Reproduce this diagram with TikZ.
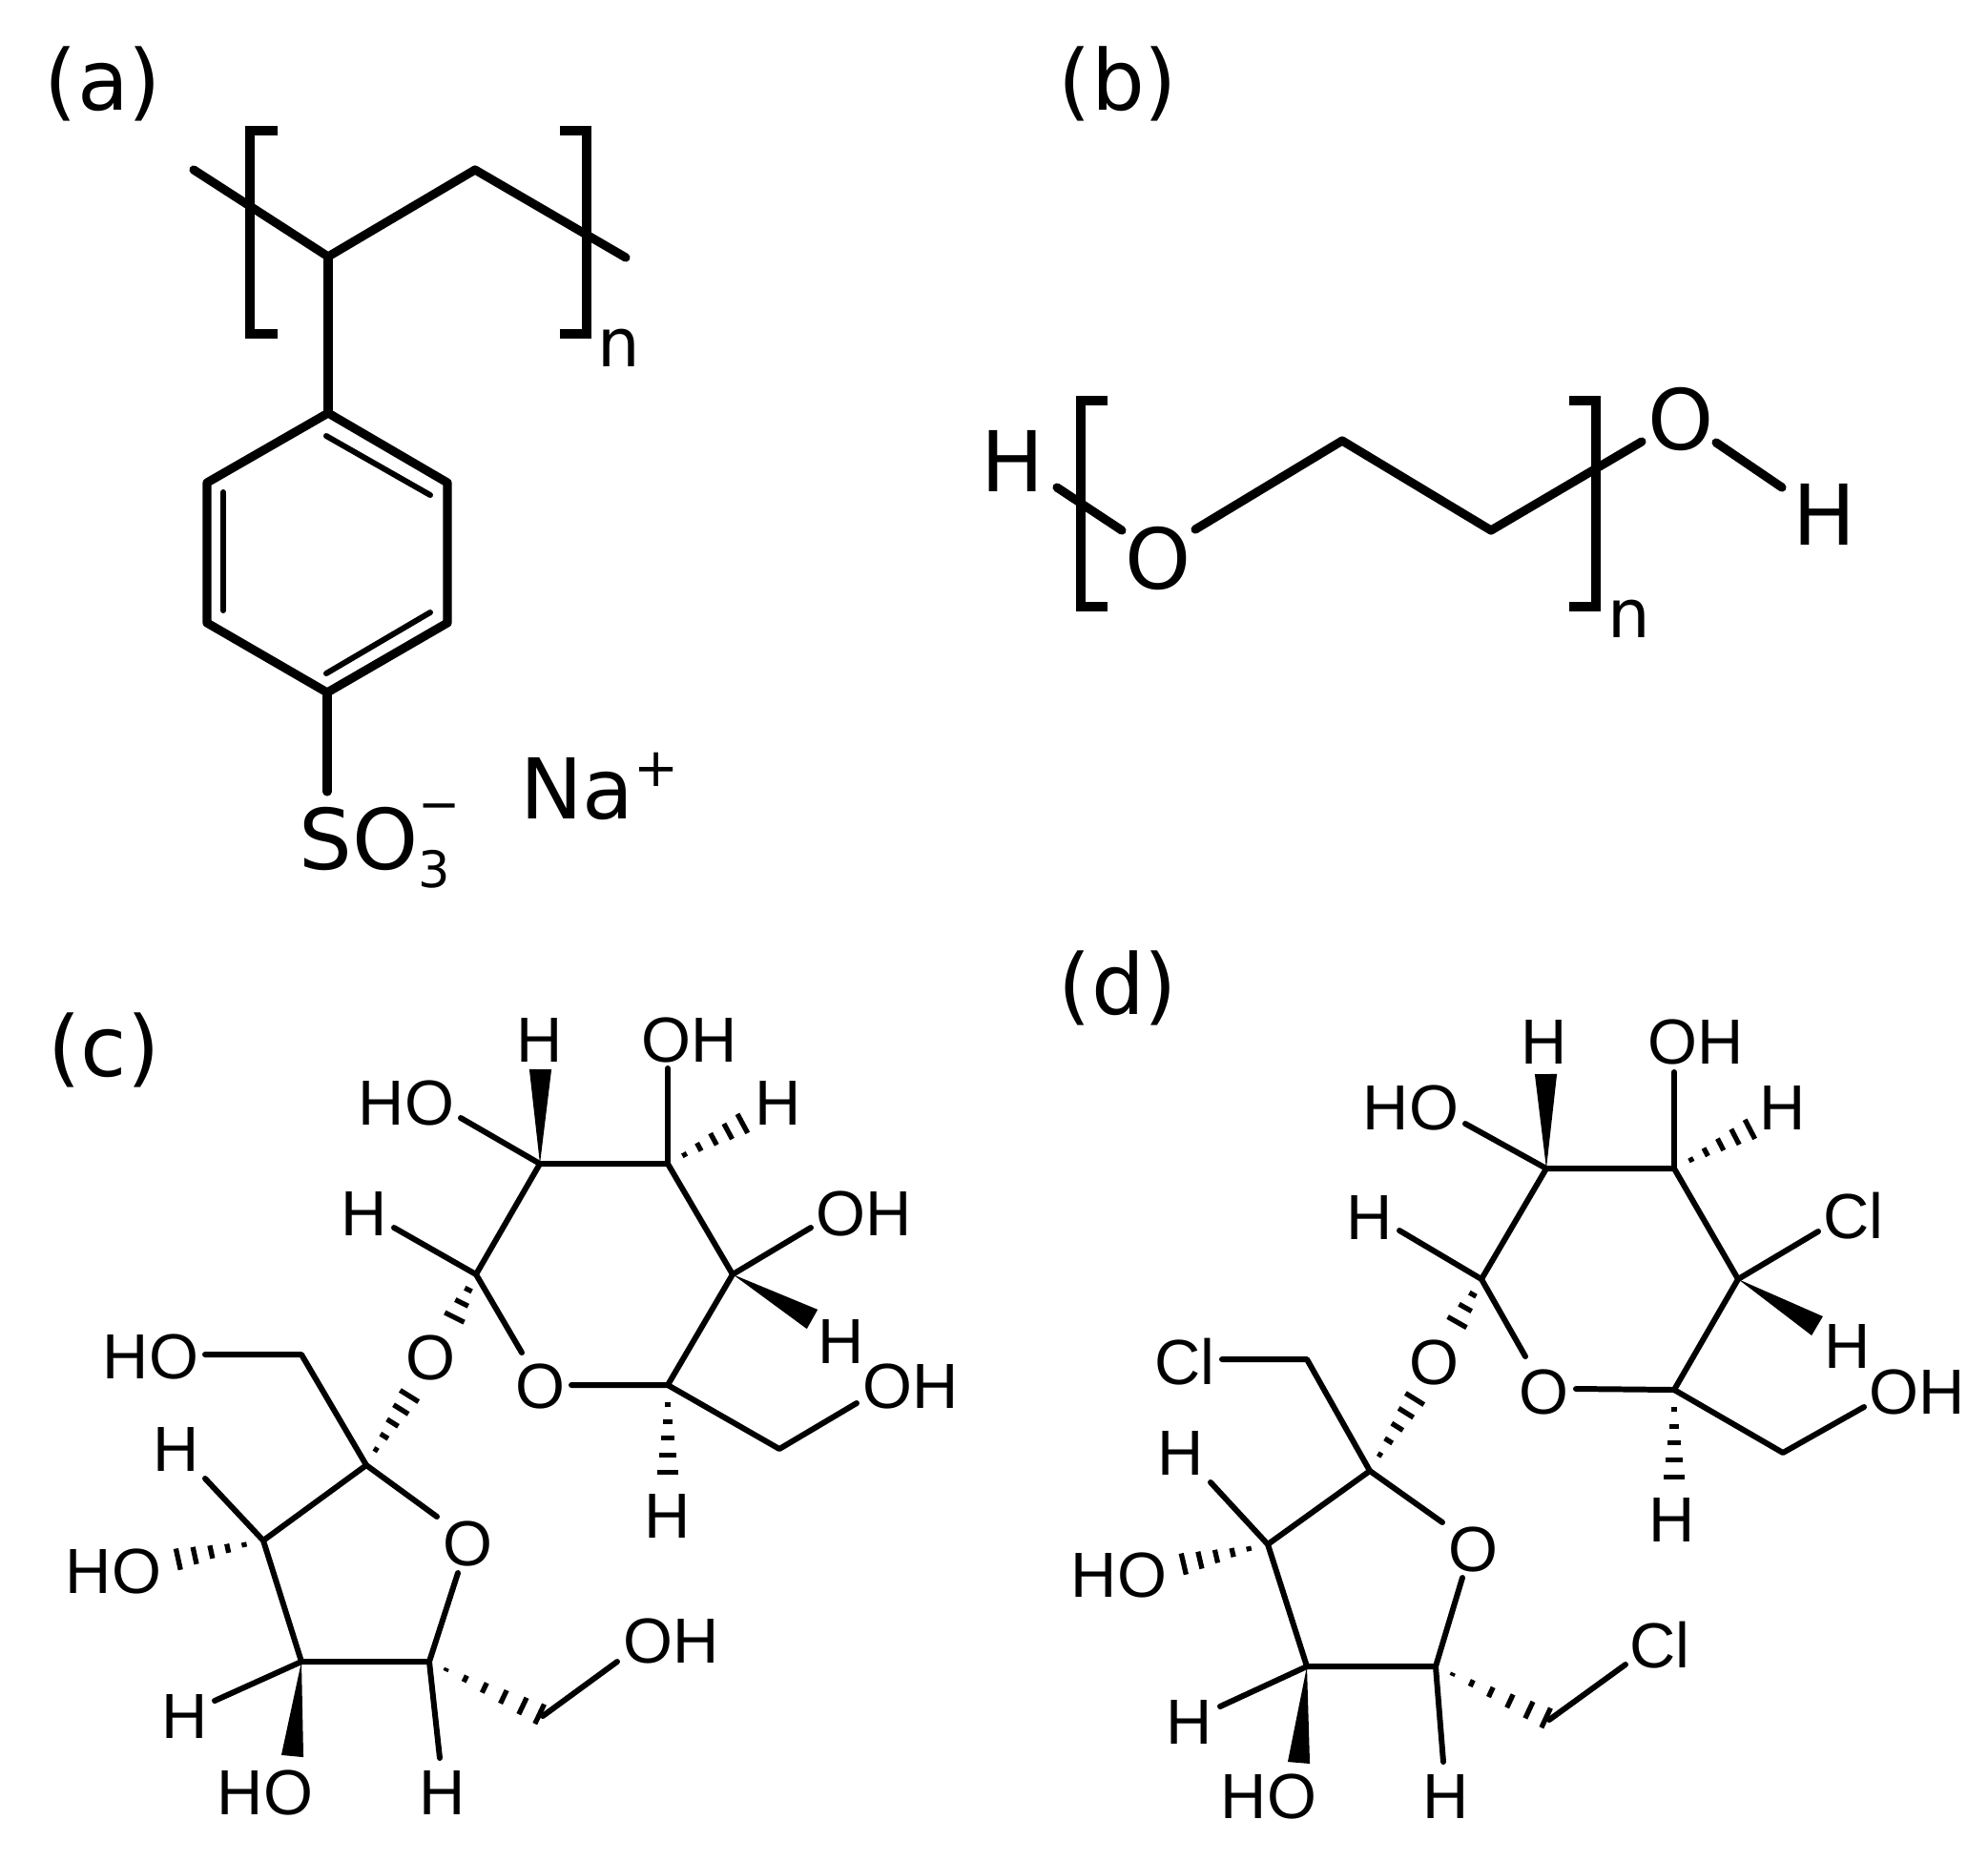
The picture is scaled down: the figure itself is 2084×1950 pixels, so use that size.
\documentclass[tikz,border=0pt]{standalone}
\usepackage{fontspec}
\usepackage{tikz}
\usetikzlibrary{calc}
\setmainfont{DejaVu Sans}
\newfontfamily\atomfont{Liberation Sans}

% #1 = vertex, #2 = far end
\newcommand{\wedgebond}[2]{\fill (#1) -- ($(#2)!3.3pt!90:(#1)$) -- ($(#2)!3.3pt!-90:(#1)$) -- cycle;}
\newcommand{\hashbond}[3][0.22,0.41,0.6,0.79,0.98]{
    \foreach \t in {#1} {
        \draw[hash] ($(#2)!\t!(#3)!{\t*3.3pt}!90:(#3)$) -- ($(#2)!\t!(#3)!{\t*3.3pt}!-90:(#3)$);
    }
}

\begin{document}
\begin{tikzpicture}[
        x=0.01cm, y=-0.01cm,
        bigatom/.style={inner sep=0, anchor=base, font=\fontsize{25}{30}\selectfont},
        indexatom/.style={inner sep=0, anchor=base, font=\fontsize{20}{25}\selectfont},
        sugaratom/.style={inner sep=0, anchor=base, font=\atomfont\fontsize{19}{22}\selectfont},
        bond/.style={line width=2.6pt, line cap=round, line join=round},
        innerbond/.style={line width=1.7pt, line cap=round},
        bracket/.style={line width=2.7pt, line cap=butt, line join=miter},
        sugarbond/.style={line width=1.7pt, line cap=round, line join=round},
        hash/.style={line width=1.5pt}
    ]
    \useasboundingbox (0,0) rectangle (2084,1950);

    % (a) -------------------------------------------
    \begin{scope}[every node/.style={bigatom}]
        % Labels
        \node (tagA) at (108,115) {(a)};
        \node[indexatom] (nA) at (649,384) {n};
        \node (so3) at (376,911) {SO\rlap{\raisebox{-5.4pt}{\fontsize{15}{18}\selectfont 3}}\rlap{\raisebox{14.2pt}{\fontsize{15}{18}\selectfont −}}};
        \node (na) at (605,858) {Na\rlap{\raisebox{9.4pt}{\fontsize{16}{20}\selectfont +}}};
        % Vertices
        \coordinate (a0) at (203,178);
        \coordinate (a1) at (344,269);
        \coordinate (a2) at (498,178);
        \coordinate (a3) at (656,270);
        \coordinate (r1) at (344,433);
        \coordinate (r2) at (469,506);
        \coordinate (r3) at (469,653);
        \coordinate (r4) at (343,726);
        \coordinate (r5) at (217,653);
        \coordinate (r6) at (217,506);
        \coordinate (s1) at (343,830);
        % inner lines of the ring
        \coordinate (i1) at (342,457);
        \coordinate (i2) at (451,519);
        \coordinate (i3) at (451,642);
        \coordinate (i4) at (342,706);
        \coordinate (i5) at (234,640);
        \coordinate (i6) at (234,516);
        % brackets
        \coordinate (bl1) at (291,137);
        \coordinate (bl2) at (262,137);
        \coordinate (bl3) at (262,350);
        \coordinate (bl4) at (291,350);
        \coordinate (br1) at (587,137);
        \coordinate (br2) at (615,137);
        \coordinate (br3) at (615,350);
        \coordinate (br4) at (587,350);
        % Edges
        \draw[bond] (a0) -- (a1) -- (a2) -- (a3);
        \draw[bond] (a1) -- (r1);
        \draw[bond] (r1) -- (r2) -- (r3) -- (r4) -- (r5) -- (r6) -- cycle;
        \draw[bond] (r4) -- (s1);
        \draw[innerbond] (i1) -- (i2);
        \draw[innerbond] (i3) -- (i4);
        \draw[innerbond] (i5) -- (i6);
        \draw[bracket] (bl1) -- (bl2) -- (bl3) -- (bl4);
        \draw[bracket] (br1) -- (br2) -- (br3) -- (br4);
    \end{scope}

    % (b) -------------------------------------------
    \begin{scope}[every node/.style={bigatom}]
        % Labels
        \node (tagB) at (1172,115) {(b)};
        \node[indexatom] (nB) at (1708,668) {n};
        \node (hB1) at (1062,515) {H};
        \node (oB1) at (1214,617) {O};
        \node (oB2) at (1762,471) {O};
        \node (hB2) at (1913,571) {H};
        % Vertices
        \coordinate (e1) at (1108,511);
        \coordinate (e2) at (1176,556);
        \coordinate (e3) at (1253,555);
        \coordinate (b1) at (1407,462);
        \coordinate (b2) at (1563,556);
        \coordinate (e4) at (1721,463);
        \coordinate (e5) at (1799,464);
        \coordinate (e6) at (1868,511);
        % brackets
        \coordinate (cl1) at (1161,420);
        \coordinate (cl2) at (1133,420);
        \coordinate (cl3) at (1133,636);
        \coordinate (cl4) at (1161,636);
        \coordinate (cr1) at (1645,420);
        \coordinate (cr2) at (1673,420);
        \coordinate (cr3) at (1673,636);
        \coordinate (cr4) at (1645,636);
        % Edges
        \draw[bond] (e1) -- (e2);
        \draw[bond] (e3) -- (b1) -- (b2) -- (e4);
        \draw[bond] (e5) -- (e6);
        \draw[bracket] (cl1) -- (cl2) -- (cl3) -- (cl4);
        \draw[bracket] (cr1) -- (cr2) -- (cr3) -- (cr4);
    \end{scope}

    % (c) -------------------------------------------
    \begin{scope}[every node/.style={sugaratom}]
        % Labels
        \node[bigatom] (tagC) at (109,1128) {(c)};
        \node (cH1) at (566,1113) {H};
        \node (cOH1) at (723,1113) {OH};
        \node (cHO1) at (426,1179) {HO};
        \node (cH2) at (816,1179) {H};
        \node (cOH2) at (906,1295) {OH};
        \node (cH3) at (382,1295) {H};
        \node (cH4) at (882,1429) {H};
        \node (cO1) at (451,1446) {O};
        \node (cO2) at (566,1476) {O};
        \node (cOH3) at (955,1476) {OH};
        \node (cHO2) at (158,1445) {HO};
        \node (cH5) at (185,1542) {H};
        \node (cH6) at (700,1612) {H};
        \node (cO3) at (490,1641) {O};
        \node (cHO3) at (119,1670) {HO};
        \node (cOH4) at (704,1743) {OH};
        \node (cH7) at (194,1822) {H};
        \node (cHO4) at (278,1902) {HO};
        \node (cH8) at (464,1902) {H};
        % Vertices
        \coordinate (c1) at (566,1220);
        \coordinate (c2) at (700,1220);
        \coordinate (c3) at (768,1336);
        \coordinate (c4) at (700,1452);
        \coordinate (c5) at (499,1336);
        \coordinate (c6) at (817,1519);
        \coordinate (c7) at (384,1536);
        \coordinate (c8) at (276,1615);
        \coordinate (c9) at (316,1742);
        \coordinate (c10) at (450,1742);
        \coordinate (c11) at (316,1420);
        \coordinate (c12) at (569,1799);
        % bond ends at the labels
        \coordinate (ce1) at (566.5,1121);
        \coordinate (ce2) at (700,1120);
        \coordinate (ce3) at (483,1172);
        \coordinate (ce4) at (780,1177);
        \coordinate (ce5) at (850,1287);
        \coordinate (ce6) at (851.5,1383);
        \coordinate (ce7) at (413,1287);
        \coordinate (ce8) at (476,1382);
        \coordinate (ce9) at (547,1418);
        \coordinate (ce10) at (599,1452);
        \coordinate (ce11) at (898,1471);
        \coordinate (ce12) at (430,1462);
        \coordinate (ce13) at (700,1545);
        \coordinate (ce14) at (215,1420);
        \coordinate (ce15) at (215,1550);
        \coordinate (ce16) at (458,1590);
        \coordinate (ce17) at (480,1649);
        \coordinate (ce18) at (185,1635);
        \coordinate (ce19) at (225,1783);
        \coordinate (ce20) at (306.5,1841);
        \coordinate (ce21) at (461,1843);
        \coordinate (ce22) at (568,1798);
        \coordinate (ce23) at (647,1742);
        % Edges
        \draw[sugarbond] (ce9) -- (c5) -- (c1) -- (c2) -- (c3) -- (c4) -- (ce10);
        \draw[sugarbond] (c4) -- (c6) -- (ce11);
        \draw[sugarbond] (c1) -- (ce3);
        \draw[sugarbond] (c2) -- (ce2);
        \draw[sugarbond] (c3) -- (ce5);
        \draw[sugarbond] (c5) -- (ce7);
        \draw[sugarbond] (ce16) -- (c7) -- (c8) -- (c9) -- (c10) -- (ce17);
        \draw[sugarbond] (c7) -- (c11) -- (ce14);
        \draw[sugarbond] (c8) -- (ce15);
        \draw[sugarbond] (c9) -- (ce19);
        \draw[sugarbond] (c10) -- (ce21);
        \draw[sugarbond] (c12) -- (ce23);
        \wedgebond{c1}{ce1}
        \wedgebond{c3}{ce6}
        \wedgebond{c9}{ce20}
        \hashbond{c2}{ce4}
        \hashbond{c4}{ce13}
        \hashbond[0.35,0.65,0.98]{c5}{ce8}
        \hashbond{c7}{ce12}
        \hashbond{c8}{ce18}
        \hashbond[0.15,0.32,0.49,0.66,0.83,0.98]{c10}{ce22}
    \end{scope}

    % (d) -------------------------------------------
    \begin{scope}[every node/.style={sugaratom}]
        % Labels
        \node[bigatom] (tagD) at (1172,1063) {(d)};
        \node (dH1) at (1619,1115) {H};
        \node (dOH1) at (1778,1115) {OH};
        \node (dHO1) at (1479,1184) {HO};
        \node (dH2) at (1869,1184) {H};
        \node (dCl1) at (1943,1298) {Cl};
        \node (dH3) at (1436,1299) {H};
        \node (dH4) at (1937,1434) {H};
        \node (dO1) at (1503,1451) {O};
        \node (dO2) at (1618,1482) {O};
        \node (dOH2) at (2010,1482) {OH};
        \node (dCl2) at (1242,1451) {Cl};
        \node (dH5) at (1238,1546) {H};
        \node (dH6) at (1753,1616) {H};
        \node (dO3) at (1544,1647) {O};
        \node (dHO2) at (1173,1674) {HO};
        \node (dCl3) at (1740,1748) {Cl};
        \node (dH7) at (1247,1828) {H};
        \node (dHO3) at (1330,1906) {HO};
        \node (dH8) at (1516,1906) {H};
        % Vertices
        \coordinate (d1) at (1621,1225);
        \coordinate (d2) at (1755,1225);
        \coordinate (d3) at (1822,1341);
        \coordinate (d4) at (1755,1457);
        \coordinate (d5) at (1553,1341);
        \coordinate (d6) at (1869,1523);
        \coordinate (d7) at (1436,1542);
        \coordinate (d8) at (1329,1619);
        \coordinate (d9) at (1370,1747);
        \coordinate (d10) at (1505,1747);
        \coordinate (d11) at (1370,1425);
        \coordinate (d12) at (1624,1803);
        % bond ends at the labels
        \coordinate (de1) at (1620.5,1126);
        \coordinate (de2) at (1755,1124);
        \coordinate (de3) at (1536,1178);
        \coordinate (de4) at (1836,1183);
        \coordinate (de5) at (1906,1291);
        \coordinate (de6) at (1905,1390);
        \coordinate (de7) at (1467,1290);
        \coordinate (de8) at (1527,1387);
        \coordinate (de9) at (1599,1422);
        \coordinate (de10) at (1652,1456);
        \coordinate (de11) at (1954,1475);
        \coordinate (de12) at (1484,1465);
        \coordinate (de13) at (1755,1550);
        \coordinate (de14) at (1281,1425);
        \coordinate (de15) at (1269,1554);
        \coordinate (de16) at (1512,1596);
        \coordinate (de17) at (1533,1654);
        \coordinate (de18) at (1239,1640);
        \coordinate (de19) at (1279,1789);
        \coordinate (de20) at (1361.5,1848);
        \coordinate (de21) at (1513,1847);
        \coordinate (de22) at (1623,1802);
        \coordinate (de23) at (1704,1745);
        % Edges
        \draw[sugarbond] (de9) -- (d5) -- (d1) -- (d2) -- (d3) -- (d4) -- (de10);
        \draw[sugarbond] (d4) -- (d6) -- (de11);
        \draw[sugarbond] (d1) -- (de3);
        \draw[sugarbond] (d2) -- (de2);
        \draw[sugarbond] (d3) -- (de5);
        \draw[sugarbond] (d5) -- (de7);
        \draw[sugarbond] (de16) -- (d7) -- (d8) -- (d9) -- (d10) -- (de17);
        \draw[sugarbond] (d7) -- (d11) -- (de14);
        \draw[sugarbond] (d8) -- (de15);
        \draw[sugarbond] (d9) -- (de19);
        \draw[sugarbond] (d10) -- (de21);
        \draw[sugarbond] (d12) -- (de23);
        \wedgebond{d1}{de1}
        \wedgebond{d3}{de6}
        \wedgebond{d9}{de20}
        \hashbond{d2}{de4}
        \hashbond{d4}{de13}
        \hashbond[0.35,0.65,0.98]{d5}{de8}
        \hashbond{d7}{de12}
        \hashbond{d8}{de18}
        \hashbond[0.15,0.32,0.49,0.66,0.83,0.98]{d10}{de22}
    \end{scope}
\end{tikzpicture}
\end{document}
